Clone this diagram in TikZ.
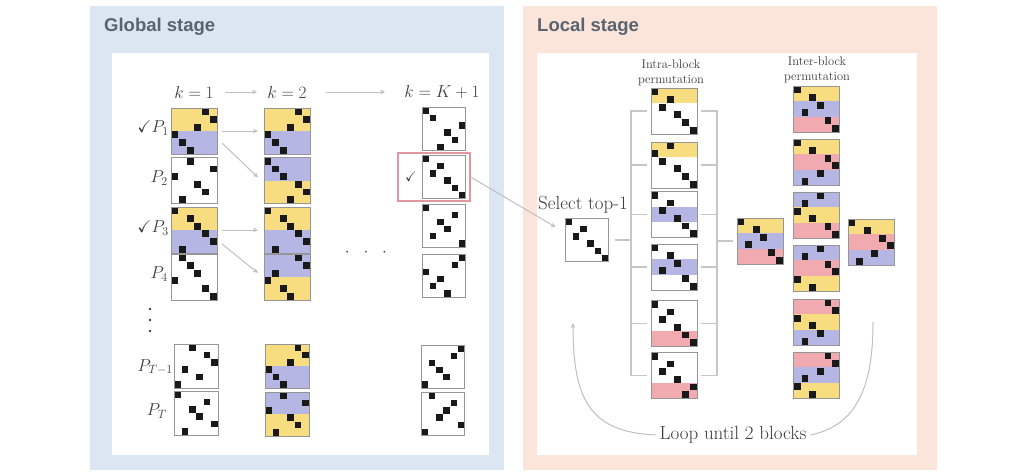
\documentclass[tikz,border=0pt]{standalone}
\usepackage{amssymb}
\usepackage{fontspec}
\newfontfamily\ttlfont{Liberation Sans}
\usetikzlibrary{arrows.meta}
\definecolor{cy}{RGB}{248,220,128}
\definecolor{cl}{RGB}{182,182,228}
\definecolor{cp}{RGB}{241,170,176}
\definecolor{gpanel}{RGB}{220,230,242}
\definecolor{lpanel}{RGB}{251,228,218}
\definecolor{ttlcol}{RGB}{90,99,112}
\definecolor{txtcol}{RGB}{60,60,60}
\definecolor{cellblk}{RGB}{25,25,25}
\definecolor{matline}{RGB}{150,150,150}
\definecolor{arrcol}{RGB}{192,192,192}
\definecolor{selred}{RGB}{226,150,160}
\newcommand\pmat[6]{%
  \pgfmathsetmacro\pmL{#2-#4/2}%
  \pgfmathsetmacro\pmT{#3-#4/2}%
  \pgfmathsetmacro\pmC{#4/6}%
  \foreach \ra/\rb/\bc in {#6}{\fill[\bc] (\pmL,\pmT+\ra*\pmC) rectangle (\pmL+#4,\pmT+\rb*\pmC+\pmC);}%
  \foreach \c [count=\r from 0] in {#5}{\fill[cellblk] (\pmL+\c*\pmC+0.05*\pmC,\pmT+\r*\pmC+0.05*\pmC) rectangle ++(0.9*\pmC,0.9*\pmC);}%
  \node[matbox, minimum size=#4pt] (#1) at (#2,#3) {};%
}
\begin{document}
\begin{tikzpicture}[x=1pt,y=-1pt,
  matbox/.style={draw=matline, line width=0.7pt, inner sep=0pt, outer sep=0pt, fill=none},
  ttl/.style={font=\ttlfont\bfseries\fontsize{18.5}{21}\selectfont, text=ttlcol, anchor=west, inner sep=0pt},
  mlab/.style={font=\fontsize{16.5}{19}\selectfont, text=txtcol, inner sep=1pt},
  plab/.style={font=\fontsize{17}{19}\selectfont, text=txtcol, inner sep=1pt, anchor=east},
  smallt/.style={font=\fontsize{12.5}{14.5}\selectfont, text=txtcol, align=center, inner sep=0pt},
  bigt/.style={font=\fontsize{19}{22}\selectfont, text=txtcol, inner sep=1pt},
  arr/.style={draw=arrcol, line width=1pt, -{Stealth[length=5pt,width=4.5pt]}},
  brk/.style={draw=arrcol!90, line width=1.1pt},
  crv/.style={draw=arrcol, line width=1pt}]
\useasboundingbox (0,0) rectangle (1024,474);
\fill[white] (0,0) rectangle (1024,474);
% panels
\fill[gpanel] (90,6) rectangle (504,470);
\fill[white] (112,53) rectangle (489,455);
\fill[lpanel] (523,6) rectangle (937,470);
\fill[white] (537,53) rectangle (917,455);
\node[ttl] (gtitle) at (104,27) {Global stage};
\node[ttl] (ltitle) at (537,27) {Local stage};
% k labels
\node[mlab] (k1) at (194,92) {$k=1$};
\node[mlab] (k2) at (287,92) {$k=2$};
\node[mlab] (kK) at (442,92) {$k=K+1$};
\draw[arr, shorten <=10pt, shorten >=9pt] (k1.east) -- (k2.west);
\draw[arr, shorten <=18pt, shorten >=18pt] (k2.east) -- (kK.west);
% column 1
\pmat{g1}{194}{131}{46}{4,5,3,0,1,2}{0/2/cy,3/5/cl}
\pmat{g2}{194}{180.5}{46}{2,5,0,3,4,1}{0/5/white}
\pmat{g3}{194}{230}{46}{0,2,3,4,5,1}{0/2/cy,3/5/cl}
\pmat{g4}{194}{277}{46}{1,2,3,0,4,5}{0/5/white}
\pmat{g5}{196}{366}{44}{2,4,5,1,3,0}{0/5/white}
\pmat{g6}{196}{413}{44}{0,4,2,3,5,1}{0/5/white}
% column 2
\pmat{h1}{287}{131}{46}{4,5,3,0,1,2}{0/2/cy,3/5/cl}
\pmat{h2}{287}{180.5}{46}{0,1,2,4,5,3}{0/2/cl,3/5/cy}
\pmat{h3}{287}{230}{46}{0,2,3,4,5,1}{0/2/cy,3/5/cl}
\pmat{h4}{287}{277}{46}{4,5,1,0,2,3}{0/2/cl,3/5/cy}
\pmat{h5}{287}{366}{44}{4,5,3,0,1,2}{0/2/cy,3/5/cl}
\pmat{h6}{287}{414}{44}{2,5,0,3,4,1}{0/2/cl,3/5/cy}
% column 3
\pmat{m1}{444}{129}{43}{0,1,5,3,4,2}{0/5/white}
\pmat{m2}{444}{177}{43}{0,2,1,3,4,5}{0/5/white}
\pmat{m3}{444}{225.5}{43}{0,4,2,3,1,5}{0/5/white}
\pmat{m4}{444}{275.5}{43}{5,4,0,2,1,3}{0/5/white}
\pmat{m5}{443}{366.5}{43}{5,4,1,2,3,0}{0/5/white}
\pmat{m6}{443}{414}{43}{1,4,3,2,5,0}{0/5/white}
% P labels
\node[plab] (p1) at (170,128) {$\checkmark P_1$};
\node[plab] (p2) at (169,178) {$P_2$};
\node[plab] (p3) at (170,228) {$\checkmark P_3$};
\node[plab] (p4) at (169,274) {$P_4$};
\node[plab] (pT1) at (174,367) {$P_{T-1}$};
\node[plab] (pT) at (168,411) {$P_T$};
\foreach \yy in {309,320,331} {\fill[txtcol] (150,\yy) circle (1.4);}
\node[mlab] (hd) at (366,253) {$\cdot\hspace{10pt}\cdot\hspace{10pt}\cdot$};
% arrows col1 -> col2
\draw[arr] ([xshift=5pt]g1.east) -- ([xshift=-6pt]h1.west);
\draw[arr] ([shift={(5,12)}]g1.east) -- ([shift={(-6,-3)}]h2.west);
\draw[arr] ([xshift=5pt]g3.east) -- ([xshift=-6pt]h3.west);
\draw[arr] ([shift={(5,14)}]g3.east) -- ([shift={(-6,-4)}]h4.west);
% selected box
\node[draw=selred, line width=1.3pt, minimum width=72pt, minimum height=48pt, inner sep=0pt] (sb) at (434,177) {};
\node[text=txtcol, font=\fontsize{14}{16}\selectfont] (chk) at (411,177) {$\checkmark$};
% local stage
\node[bigt] (seltxt) at (583,205) {Select top-1};
\pmat{sel}{587}{240}{43}{0,2,1,3,4,5}{0/5/white}
\draw[arr] (sb.east) -- ([shift={(-10,-13)}]sel.west);
\node[smallt] (intra) at (671,73) {Intra-block\\permutation};
\node[smallt] (inter) at (817,70) {Inter-block\\permutation};
\pmat{i1}{674}{111}{46}{0,2,1,3,4,5}{0/1/cy}
\pmat{i2}{674}{165}{46}{2,0,1,3,4,5}{0/1/cy}
\pmat{i3}{674}{214.5}{46}{0,2,1,3,4,5}{2/3/cl}
\pmat{i4}{674}{267}{46}{0,2,3,1,4,5}{2/3/cl}
\pmat{i5}{674}{323.5}{46}{0,2,1,3,4,5}{4/5/cp}
\pmat{i6}{674}{375.5}{46}{0,2,1,3,5,4}{4/5/cp}
\pmat{lm}{760}{241}{46}{0,2,3,1,4,5}{0/1/cy,2/3/cl,4/5/cp}
\pmat{rm}{871}{242}{46}{0,2,4,5,3,1}{0/1/cy,2/3/cp,4/5/cl}
\pmat{e1}{816.5}{109}{46}{0,2,3,1,4,5}{0/1/cy,2/3/cl,4/5/cp}
\pmat{e2}{816.5}{162}{46}{0,2,4,5,3,1}{0/1/cy,2/3/cp,4/5/cl}
\pmat{e3}{816.5}{215}{46}{3,1,0,2,4,5}{0/1/cl,2/3/cy,4/5/cp}
\pmat{e4}{816.5}{268}{46}{3,1,4,5,0,2}{0/1/cl,2/3/cp,4/5/cy}
\pmat{e5}{816.5}{322}{46}{4,5,0,2,3,1}{0/1/cp,2/3/cy,4/5/cl}
\pmat{e6}{816.5}{375}{46}{4,5,3,1,0,2}{0/1/cp,2/3/cl,4/5/cy}
% brackets
\coordinate (bl) at (631,240);
\coordinate (br) at (717,241);
\draw[brk] ([xshift=6pt]sel.east) -- (bl);
\draw[brk] ([xshift=-4pt]i1.west) -- (i1.west -| bl) -- (i6.west -| bl) -- ([xshift=-4pt]i6.west);
\foreach \n in {i2,i3,i4,i5} {\draw[brk] ([xshift=-4pt]\n.west) -- (\n.west -| bl);}
\draw[brk] ([xshift=4pt]i1.east) -- (i1.east -| br) -- (i6.east -| br) -- ([xshift=4pt]i6.east);
\foreach \n in {i2,i3,i4,i5} {\draw[brk] ([xshift=4pt]\n.east) -- (\n.east -| br);}
\draw[brk] (br) -- ([xshift=-4pt]lm.west);
% loop
\node[bigt] (loop) at (733,435) {Loop until 2 blocks};
\coordinate (lpL) at (573,323);
\coordinate (lpR) at (873,322);
\draw[arr] ([xshift=-3pt]loop.west) .. controls (590,432) and (573,400) .. (lpL);
\draw[crv] ([xshift=3pt]loop.east) .. controls (858,425) and (873,385) .. (lpR);
\end{tikzpicture}
\end{document}
